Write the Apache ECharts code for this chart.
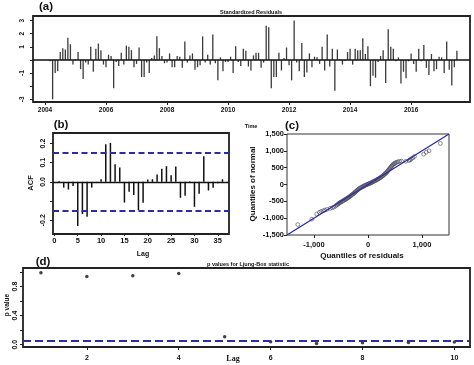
<!DOCTYPE html>
<html><head><meta charset="utf-8">
<script src="https://cdn.jsdelivr.net/npm/echarts@6/dist/echarts.min.js"></script>
<style>html,body{margin:0;padding:0;background:#fff}#c{width:474px;height:365px}</style>
</head><body><div id="c"></div>
<script>
// ---------- (a) Standardized residuals (monthly, first value Mar 2004) ----------
const residualStartYear = 2004;
const residualStartMonth = 2; // months after January
const residuals = [
 -0.1,-3.0,-1.0,-0.85,0.6,0.9,0.8,1.7,1.2,-0.35,
 0.05,0.6,-0.7,-1.45,-0.2,-0.35,1.0,-0.9,0.85,1.25,
 0.75,-0.35,-0.55,0.4,0.3,-2.15,-0.15,-0.45,0.55,-0.35,
 1.1,1.0,0.75,-0.55,-0.3,0.95,-1.3,-1.3,-0.2,-1.0,
 0.15,0.35,1.8,0.9,0.3,-0.25,-0.2,0.5,-0.55,-0.55,
 0.3,0.25,-0.6,1.4,-0.2,0.35,0.5,-0.75,-0.55,-0.4,
 1.8,-0.2,0.4,-0.35,1.95,-0.25,-1.55,0.2,-0.85,-0.15,
 -0.15,0.25,-1.0,1.05,-0.15,-0.45,0.85,0.7,-0.5,-0.8,
 0.35,0.55,0.55,-0.6,-0.2,2.6,2.5,-2.15,-1.3,-1.3,
 0.55,-0.8,0.15,0.95,-0.4,-1.55,3.0,-0.2,-0.85,1.3,
 -1.3,-0.95,0.5,-0.55,0.25,0.2,-0.3,1.0,-0.8,1.95,
 -0.5,0.85,-2.35,0.8,0.05,-0.35,-0.05,0.6,0.85,-0.35,
 0.85,0.75,0.75,1.65,0.45,1.05,-2.0,-1.2,-1.35,-0.15,
 0.3,0.75,-1.75,2.35,1.0,0.85,-0.1,0.2,-1.8,-0.9,
 -1.4,-0.1,0.5,-0.3,-0.9,0.85,-0.1,1.15,-0.6,-1.15,
 0.45,-0.85,-0.7,0.25,0.2,-1.0,1.4,-0.75,-1.95,-0.55,
 0.7
];
const yearTicks = [2004,2006,2008,2010,2012,2014,2016];
const residualTicks = [-3,-2,-1,0,1,2,3];
const residualLabels = [-3,-1,1,2,3];

// ---------- (b) ACF of residuals ----------
const acfLags = [1,2,3,4,5,6,7,8,9,10,11,12,13,14,15,16,17,18,19,20,21,22,23,24,25,26,27,28,29,30,31,32,33,34,35,36];
const acfValues = [0.005,-0.03,-0.04,-0.022,-0.23,-0.168,-0.182,-0.03,-0.003,0.014,
 0.196,0.203,0.092,0.075,-0.108,-0.052,-0.069,-0.148,-0.109,0.012,
 0.014,0.038,0.069,0.082,0.035,0.08,-0.083,-0.073,0.003,-0.13,
 -0.062,0.134,-0.045,-0.031,-0.007,0.014];
const acfBound = 0.155;
const acfXTicks = [0,5,10,15,20,25,30,35];
const acfYTicks = [-0.2,-0.1,0,0.1,0.2];
const acfYLabels = [-0.2,0,0.1,0.2];

// ---------- (c) Q-Q plot ----------
const qqResiduals = [-1300,-1040,-950,-900,-870,-830,-800,-760,-700,-660,-630,-600,-580,-560,-545,-530,-515,-500,-480,-465,
 -450,-430,-415,-400,-385,-370,-355,-340,-325,-310,-295,-280,-262,-250,-238,-225,-210,-195,-180,-165,
 -150,-132,-118,-100,-85,-70,-55,-40,-25,-10,5,20,35,50,65,80,95,110,125,140,
 155,170,185,200,215,230,245,260,275,290,305,320,335,350,362,375,388,400,412,425,
 438,450,465,480,495,510,530,555,585,620,700,760,780,800,830,860,1030,1080,1130,1340];
const qqNormal = [-1190,-1030,-880,-830,-800,-780,-760,-740,-710,-690,-670,-640,-610,-590,-570,-550,-535,-520,-505,-490,
 -470,-455,-440,-425,-410,-395,-375,-360,-340,-320,-300,-285,-265,-245,-225,-205,-185,-165,-145,-125,
 -110,-95,-80,-65,-52,-40,-28,-15,-5,5,15,25,35,45,58,70,82,95,108,120,
 132,145,160,175,190,205,222,240,258,280,300,322,345,370,395,420,445,470,495,520,
 545,570,595,615,630,645,660,675,690,695,690,710,730,760,790,830,900,960,1000,1220];
const qqRefLine = [[-1500,-1500],[1500,1500]];
const qqTicks = [-1500,-1000,-500,0,500,1000,1500];
const qqXLabels = [-1000,0,1000];

// ---------- (d) Ljung-Box p values ----------
const lbLags = [1,2,3,4,5,6,7,8,9,10];
const lbPValues = [0.99,0.94,0.95,0.98,0.11,0.04,0.015,0.025,0.03,0.035];
const lbLevel = 0.05;
const lbXTicks = [2,4,6,8,10];
const lbYTicks = [0,0.2,0.4,0.6,0.8,1.0];
const lbYLabels = [0,0.4,0.8];

const FONT = '"Liberation Sans", Arial, sans-serif';
const BLUE = '#2b2ba6';

function valAxis(idx, min, max, tickVals, labelVals, fmt, opts) {
  opts = opts || {};
  return {
    type: 'value', gridIndex: idx, min: min, max: max,
    splitLine: {show: false},
    axisLine: {show: false, onZero: false},
    axisTick: {show: true, customValues: tickVals, length: opts.tickLen || 3, lineStyle: {color: '#222', width: 1}},
    axisLabel: {customValues: labelVals, formatter: fmt, fontFamily: FONT, fontWeight: 'bold',
      fontSize: opts.fs || 7, color: '#111', margin: opts.margin || 4, rotate: opts.rotate || 0}
  };
}
function fixed1(v){ return Number(v).toFixed(1); }
function intFmt(v){ return String(Math.round(v)); }
function commaFmt(v){ return Math.round(v).toLocaleString('en-US'); }

function txt(x, y, s, size, opts) {
  opts = opts || {};
  return {type: 'text', x: x, y: y, rotation: opts.rot || 0, silent: true,
    style: {text: s, fontFamily: opts.family || FONT, fontWeight: 'bold', fontSize: size,
      fill: '#111', align: opts.align || 'center', verticalAlign: 'middle'}};
}

const chart = echarts.init(document.getElementById('c'), null, {renderer: 'canvas'});
const gridBase = {show: true, backgroundColor: 'transparent', containLabel: false};
chart.setOption({
  animation: false,
  backgroundColor: '#fff',
  grid: [
    Object.assign({left: 33, top: 16, width: 437, height: 86, borderColor: '#222', borderWidth: 1.8}, gridBase),
    Object.assign({left: 53, top: 133, width: 176, height: 101, borderColor: '#222', borderWidth: 1.8}, gridBase),
    Object.assign({left: 287, top: 134, width: 162, height: 101, borderColor: '#333', borderWidth: 1}, gridBase),
    Object.assign({left: 23, top: 268, width: 447, height: 79, borderColor: '#222', borderWidth: 1.8}, gridBase)
  ],
  xAxis: [
    valAxis(0, 2003.607, 2017.93, yearTicks, yearTicks, intFmt, {fs: 6.5, margin: 5}),
    valAxis(1, -0.3, 37.4, acfXTicks, acfXTicks, intFmt, {fs: 7.5, margin: 3, tickLen: 2}),
    valAxis(2, -1500, 1500, qqXLabels, qqXLabels, commaFmt, {fs: 7.5, margin: 6}),
    valAxis(3, 0.61, 10.34, lbXTicks, lbXTicks, intFmt, {fs: 7, margin: 8})
  ],
  yAxis: [
    valAxis(0, -3.2, 3.35, residualTicks, residualLabels, intFmt, {fs: 6.5, margin: 7, rotate: 90}),
    valAxis(1, -0.272, 0.255, acfYTicks, acfYLabels, fixed1, {fs: 7, margin: 6, rotate: 90}),
    valAxis(2, -1500, 1500, qqTicks, qqTicks, commaFmt, {fs: 7.5, margin: 3}),
    valAxis(3, -0.033, 1.056, lbYTicks, lbYLabels, fixed1, {fs: 7, margin: 4, rotate: 90})
  ],
  graphic: [
    txt(46, 7, '(a)', 11.5),
    txt(251, 12, 'Standardized Residuals', 5.5),
    txt(251, 126, 'Time', 5.5),
    txt(61, 125, '(b)', 11.5),
    txt(31, 183, 'ACF', 7.5, {rot: Math.PI/2}),
    txt(143, 254, 'Lag', 7),
    txt(292, 126, '(c)', 11.5),
    txt(253, 184, 'Quantiles of normal', 8, {rot: Math.PI/2}),
    txt(362, 256, 'Quantiles of residuals', 8),
    txt(43, 262, '(d)', 11.5),
    txt(248, 264, 'p values for Ljung-Box statistic', 5.5),
    txt(7, 305, 'p value', 6.5, {rot: Math.PI/2}),
    txt(233, 359, 'Lag', 8, {family: '"Liberation Serif", "Times New Roman", serif'})
  ],
  series: [
    {
      type: 'bar', xAxisIndex: 0, yAxisIndex: 0, barWidth: 1.3,
      itemStyle: {color: '#3a3a3a'},
      data: residuals.map((v, i) => [residualStartYear + (residualStartMonth + i) / 12, v]),
      markLine: {silent: true, symbol: ['none','none'], label: {show: false},
        lineStyle: {color: '#111', type: 'solid', width: 1.6}, data: [{yAxis: 0}]}
    },
    {
      type: 'bar', xAxisIndex: 1, yAxisIndex: 1, barWidth: 1.5,
      itemStyle: {color: '#111'},
      data: acfLags.map((l, i) => [l, acfValues[i]]),
      markLine: {silent: true, symbol: ['none','none'], label: {show: false},
        data: [
          {yAxis: 0, lineStyle: {color: '#111', type: 'solid', width: 1.4}},
          {yAxis: acfBound, lineStyle: {color: BLUE, type: [6,3.5], width: 1.8}},
          {yAxis: -acfBound, lineStyle: {color: BLUE, type: [6,3.5], width: 1.8}}
        ]}
    },
    {
      type: 'scatter', xAxisIndex: 2, yAxisIndex: 2, symbol: 'circle', symbolSize: 3.8,
      itemStyle: {color: 'rgba(255,255,255,0)', borderColor: '#4a4a5a', borderWidth: 0.8},
      data: qqResiduals.map((r, i) => [r, qqNormal[i]])
    },
    {
      type: 'line', xAxisIndex: 2, yAxisIndex: 2, showSymbol: false, symbol: 'none',
      lineStyle: {color: BLUE, width: 1.3}, data: qqRefLine
    },
    {
      type: 'scatter', xAxisIndex: 3, yAxisIndex: 3, symbol: 'circle', symbolSize: 3.5,
      itemStyle: {color: '#111'},
      data: lbLags.map((l, i) => [l, lbPValues[i]]),
      markLine: {silent: true, symbol: ['none','none'], label: {show: false},
        lineStyle: {color: BLUE, type: [8,4], width: 1.8}, data: [{yAxis: lbLevel}]}
    }
  ]
});
</script></body></html>
